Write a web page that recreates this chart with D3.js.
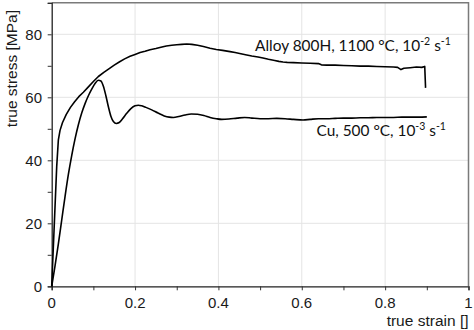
<!DOCTYPE html>
<html>
<head>
<meta charset="utf-8">
<script src="https://cdn.jsdelivr.net/npm/d3@7"></script>
<style>
  html, body { margin: 0; padding: 0; background: #fff; }
  svg { display: block; }
  .tick-label { font-family: "Liberation Sans", Arial, sans-serif; font-size: 15px; fill: #1a1a1a; }
  .axis-title { font-family: "Liberation Sans", Arial, sans-serif; font-size: 15.5px; fill: #1a1a1a; }
  .note { font-family: Lato, "Open Sans", sans-serif; font-size: 15.4px; fill: #111; }
</style>
</head>
<body>
<svg id="chart" width="474" height="330"></svg>
<script>
// Flow curves: true strain [-] vs true stress [MPa]
const alloyStrain = [0, 0.006, 0.012, 0.016, 0.02, 0.026, 0.035, 0.045, 0.055, 0.065, 0.076, 0.088, 0.1, 0.112, 0.125, 0.138, 0.15, 0.163, 0.175, 0.188, 0.2, 0.212, 0.224, 0.236, 0.25, 0.262, 0.275, 0.288, 0.3, 0.312, 0.324, 0.336, 0.35, 0.364, 0.38, 0.395, 0.41, 0.428, 0.44, 0.451, 0.465, 0.48, 0.495, 0.507, 0.52, 0.535, 0.545, 0.555, 0.565, 0.58, 0.6, 0.62, 0.64, 0.647, 0.66, 0.68, 0.7, 0.72, 0.74, 0.76, 0.78, 0.8, 0.82, 0.83, 0.838, 0.845, 0.86, 0.875, 0.888, 0.895, 0.897];
const alloyStress = [0, 19, 38, 46.5, 49.5, 52, 54.6, 56.8, 58.6, 60.2, 61.6, 63.3, 65.0, 66.6, 67.9, 69.1, 70.2, 71.3, 72.2, 73.0, 73.6, 74.2, 74.6, 75.1, 75.5, 75.9, 76.3, 76.5, 76.7, 76.8, 76.9, 76.8, 76.5, 76.1, 75.6, 75.2, 74.9, 74.5, 74.2, 73.9, 73.5, 73.1, 72.8, 72.5, 72.1, 71.7, 71.4, 71.2, 71.1, 71.0, 70.9, 70.8, 70.7, 70.3, 70.2, 70.2, 70.1, 70.0, 69.9, 69.9, 69.8, 69.7, 69.6, 69.5, 68.8, 69.2, 69.4, 69.6, 69.5, 69.8, 63.0];

const cuStrain = [0, 0.008, 0.016, 0.024, 0.032, 0.04, 0.048, 0.056, 0.064, 0.072, 0.08, 0.088, 0.096, 0.104, 0.112, 0.118, 0.124, 0.13, 0.136, 0.142, 0.148, 0.155, 0.162, 0.17, 0.18, 0.19, 0.2, 0.208, 0.216, 0.226, 0.24, 0.255, 0.27, 0.282, 0.292, 0.305, 0.32, 0.335, 0.35, 0.365, 0.38, 0.395, 0.408, 0.425, 0.445, 0.463, 0.48, 0.5, 0.52, 0.54, 0.56, 0.58, 0.603, 0.62, 0.64, 0.66, 0.68, 0.7, 0.72, 0.74, 0.76, 0.78, 0.8, 0.82, 0.84, 0.86, 0.88, 0.9];
const cuStress = [0, 6.5, 13.5, 21, 28.5, 35.5, 41.5, 46.8, 51.3, 55, 58, 60.5, 62.6, 64.4, 65.4, 65.2, 63.5, 60.5, 57.0, 54.0, 52.3, 51.7, 52.0, 53.2, 54.9, 56.4, 57.3, 57.5, 57.3, 56.8, 56.0, 55.0, 54.1, 53.7, 53.6, 53.9, 54.4, 54.7, 54.6, 54.2, 53.6, 53.2, 53.0, 53.1, 53.4, 53.6, 53.4, 53.2, 53.2, 53.3, 53.2, 53.0, 52.8, 53.0, 53.2, 53.2, 53.3, 53.4, 53.4, 53.5, 53.5, 53.6, 53.6, 53.6, 53.7, 53.7, 53.7, 53.8];

const xTickLabels = [0, 0.2, 0.4, 0.6, 0.8, 1];
const yTickLabels = [0, 20, 40, 60, 80];

const svg = d3.select("#chart");
const plotL = 51.7, plotR = 468.5, plotT = 2.8, plotB = 286.3;

const x = d3.scaleLinear().domain([0, 1]).range([plotL, plotR]);
const y = d3.scaleLinear().domain([0, 90]).range([plotB, plotT]);

// grid
const grid = svg.append("g").attr("stroke", "#e4e4e4").attr("stroke-width", 1);
grid.selectAll("line.gx").data(xTickLabels.filter(d => d > 0 && d < 1)).join("line")
  .attr("class", "gx")
  .attr("x1", d => x(d)).attr("x2", d => x(d)).attr("y1", plotT).attr("y2", plotB);
grid.selectAll("line.gy").data(yTickLabels.filter(d => d > 0)).join("line")
  .attr("class", "gy")
  .attr("x1", plotL).attr("x2", plotR).attr("y1", d => y(d)).attr("y2", d => y(d));

// frame (top and right)
svg.append("path")
  .attr("d", `M${plotL},${plotT}H${plotR}V${plotB}`)
  .attr("fill", "none").attr("stroke", "#7a7a7a").attr("stroke-width", 1.5);

// axes
const xAxis = d3.axisBottom(x).tickValues(d3.range(0, 11).map(i => i / 10)).tickSize(4).tickFormat("");
const yAxis = d3.axisLeft(y).tickValues(d3.range(0, 10).map(i => i * 10)).tickSize(4).tickFormat("");
const gx = svg.append("g").attr("transform", `translate(0,${plotB})`).call(xAxis);
const gy = svg.append("g").attr("transform", `translate(${plotL},0)`).call(yAxis);
[gx, gy].forEach(g => {
  g.select(".domain").attr("stroke", "#222").attr("stroke-width", 1.3);
  g.selectAll(".tick line").attr("stroke", "#333").attr("stroke-width", 1);
});

// tick labels
svg.selectAll("text.xl").data(xTickLabels).join("text")
  .attr("class", "tick-label xl").attr("text-anchor", "middle")
  .attr("x", d => x(d)).attr("y", 307.5)
  .text(d => d3.format("~g")(d));
svg.selectAll("text.yl").data(yTickLabels).join("text")
  .attr("class", "tick-label yl").attr("text-anchor", "end")
  .attr("x", 42).attr("y", d => y(d)).attr("dy", "0.36em")
  .text(d => d);

// axis titles
svg.append("text").attr("class", "axis-title").attr("text-anchor", "end")
  .attr("x", 468.5).attr("y", 326).text("true strain []");
svg.append("text").attr("class", "axis-title").attr("text-anchor", "end")
  .attr("transform", "translate(16.5,10) rotate(-90)").text("true stress [MPa]");

// curves
const alloyPts = alloyStrain.map((s, i) => [s, alloyStress[i]]);
const cuPts = cuStrain.map((s, i) => [s, cuStress[i]]);
const lineLin = d3.line().x(d => x(d[0])).y(d => y(d[1]));
const lineSmooth = d3.line().x(d => x(d[0])).y(d => y(d[1])).curve(d3.curveMonotoneX);

svg.append("path").datum(cuPts).attr("d", lineSmooth)
  .attr("fill", "none").attr("stroke", "#000").attr("stroke-width", 1.6).attr("stroke-linejoin", "round");
svg.append("path").datum(alloyPts).attr("d", lineLin)
  .attr("fill", "none").attr("stroke", "#000").attr("stroke-width", 1.6).attr("stroke-linejoin", "round");

// curve annotations
function note(xp, yp, main, sup1, mid, sup2) {
  const t = svg.append("text").attr("class", "note").attr("x", xp).attr("y", yp);
  t.append("tspan").text(main);
  t.append("tspan").attr("dy", -5.5).attr("font-size", "10.5px").text(sup1);
  t.append("tspan").attr("dy", 5.5).text(mid);
  t.append("tspan").attr("dy", -5.5).attr("font-size", "10.5px").text(sup2);
}
note(255, 50.7, "Alloy 800H, 1100 °C, 10", "-2", " s", "-1");
note(316.5, 135.7, "Cu, 500 °C, 10", "-3", " s", "-1");
</script>
</body>
</html>
